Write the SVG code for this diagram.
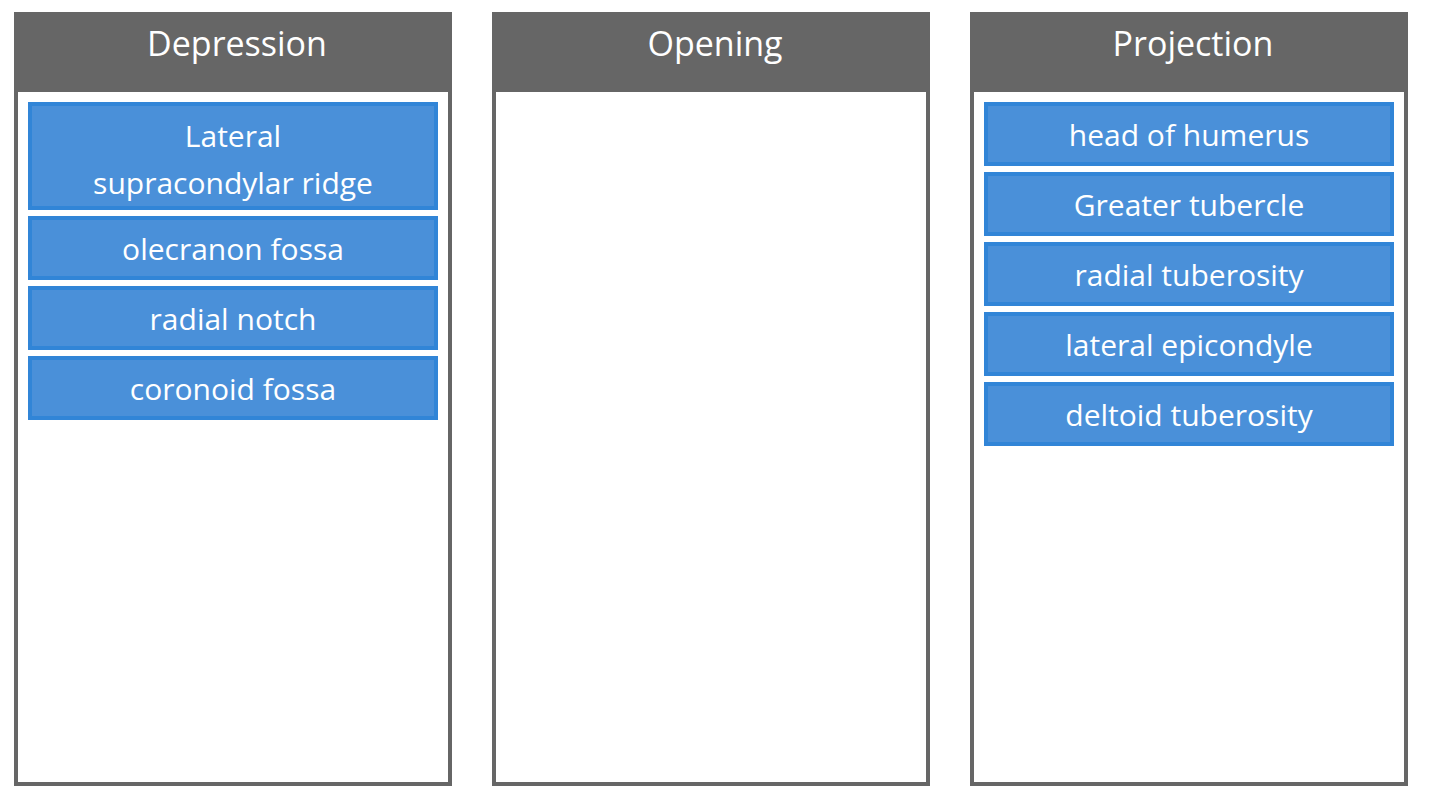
<svg xmlns="http://www.w3.org/2000/svg" width="1438" height="800" viewBox="0 0 1438 800">
<style>
.panel{fill:#fff;stroke:#666;stroke-width:4}
.hdr{fill:#666}
.ht{fill:#fff;font-family:"Open Sans",sans-serif;font-size:34px;text-anchor:middle}
.item{fill:#4a90d9;stroke:#3185d7;stroke-width:4}
.it{fill:#fff;font-family:"Open Sans",sans-serif;font-size:30px;text-anchor:middle}
</style>
<rect width="1438" height="800" fill="#fff"/>
<g id="depression">
<rect class="panel" x="16" y="14" width="434" height="770"/>
<rect class="hdr" x="14" y="12" width="438" height="80"/>
<text class="ht" x="237" y="56">Depression</text>
</g>
<g id="opening">
<rect class="panel" x="494" y="14" width="434" height="770"/>
<rect class="hdr" x="492" y="12" width="438" height="80"/>
<text class="ht" x="715" y="56">Opening</text>
</g>
<g id="projection">
<rect class="panel" x="972" y="14" width="434" height="770"/>
<rect class="hdr" x="970" y="12" width="438" height="80"/>
<text class="ht" x="1193" y="56">Projection</text>
</g>
<g id="lateral-supracondylar-ridge">
<rect class="item" x="30" y="104" width="406" height="104"/>
<text class="it" x="233" y="147">Lateral</text>
<text class="it" x="233" y="194">supracondylar ridge</text>
</g>
<g id="olecranon-fossa">
<rect class="item" x="30" y="218" width="406" height="60"/>
<text class="it" x="233" y="260">olecranon fossa</text>
</g>
<g id="radial-notch">
<rect class="item" x="30" y="288" width="406" height="60"/>
<text class="it" x="233" y="330">radial notch</text>
</g>
<g id="coronoid-fossa">
<rect class="item" x="30" y="358" width="406" height="60"/>
<text class="it" x="233" y="400">coronoid fossa</text>
</g>
<g id="head-of-humerus">
<rect class="item" x="986" y="104" width="406" height="60"/>
<text class="it" x="1189" y="146">head of humerus</text>
</g>
<g id="greater-tubercle">
<rect class="item" x="986" y="174" width="406" height="60"/>
<text class="it" x="1189" y="216">Greater tubercle</text>
</g>
<g id="radial-tuberosity">
<rect class="item" x="986" y="244" width="406" height="60"/>
<text class="it" x="1189" y="286">radial tuberosity</text>
</g>
<g id="lateral-epicondyle">
<rect class="item" x="986" y="314" width="406" height="60"/>
<text class="it" x="1189" y="356">lateral epicondyle</text>
</g>
<g id="deltoid-tuberosity">
<rect class="item" x="986" y="384" width="406" height="60"/>
<text class="it" x="1189" y="426">deltoid tuberosity</text>
</g>
<g id="connectors"></g>
</svg>
